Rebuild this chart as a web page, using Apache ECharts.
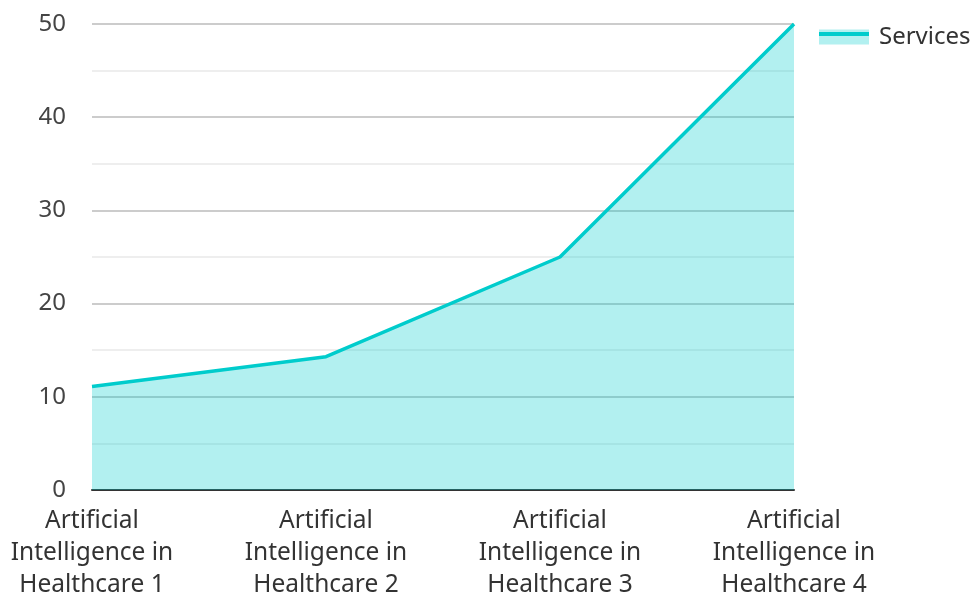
<!DOCTYPE html>
<html>
<head>
<meta charset="utf-8">
<script src="https://cdn.jsdelivr.net/npm/echarts@6/dist/echarts.min.js"></script>
<style>
  html, body { margin: 0; padding: 0; background: #fff; }
  #main { width: 976px; height: 594px; }
</style>
</head>
<body>
<div id="main"></div>
<script>
var categories = [
    'Artificial\nIntelligence in\nHealthcare 1',
    'Artificial\nIntelligence in\nHealthcare 2',
    'Artificial\nIntelligence in\nHealthcare 3',
    'Artificial\nIntelligence in\nHealthcare 4'
];
var services = [11.1, 14.3, 25, 50];

var myChart = echarts.init(document.getElementById('main'));
var option = {
    textStyle: { fontFamily: 'Noto Sans' },
    legend: {
        data: ['Services'],
        left: 814,
        top: 20,
        icon: 'rect',
        itemWidth: 50,
        itemHeight: 15,
        itemStyle: { color: '#b2f0f0' },
        textStyle: { fontSize: 24, color: '#333', padding: [0, 0, 0, 5] }
    },
    // the line part of the legend icon
    graphic: [{
        type: 'rect',
        shape: { x: 819, y: 32, width: 50, height: 4 },
        style: { fill: '#00cccc' },
        z: 100
    }],
    grid: { left: 92, right: 182, top: 24, bottom: 104, outerBoundsMode: 'none' },
    xAxis: {
        type: 'category',
        data: categories,
        boundaryGap: false,
        axisLine: { lineStyle: { color: '#333', width: 2 } },
        axisTick: { show: false },
        axisLabel: { fontSize: 24.5, color: '#333', lineHeight: 32, margin: 15, interval: 0 }
    },
    yAxis: {
        type: 'value',
        min: 0,
        max: 50,
        interval: 10,
        axisLine: { show: false },
        axisTick: { show: false },
        axisLabel: { fontSize: 24, color: '#444', margin: 26 },
        splitLine: { lineStyle: { color: '#ccc', width: 2 } },
        minorTick: { show: false, splitNumber: 2 },
        minorSplitLine: { show: true, lineStyle: { color: '#eee', width: 2 } }
    },
    series: [{
        name: 'Services',
        type: 'line',
        data: services,
        symbol: 'none',
        lineStyle: { color: '#00cccc', width: 3.5 },
        itemStyle: { color: '#00cccc' },
        areaStyle: { color: '#00cccc', opacity: 0.3 }
    }]
};
myChart.setOption(option);
</script>
</body>
</html>
